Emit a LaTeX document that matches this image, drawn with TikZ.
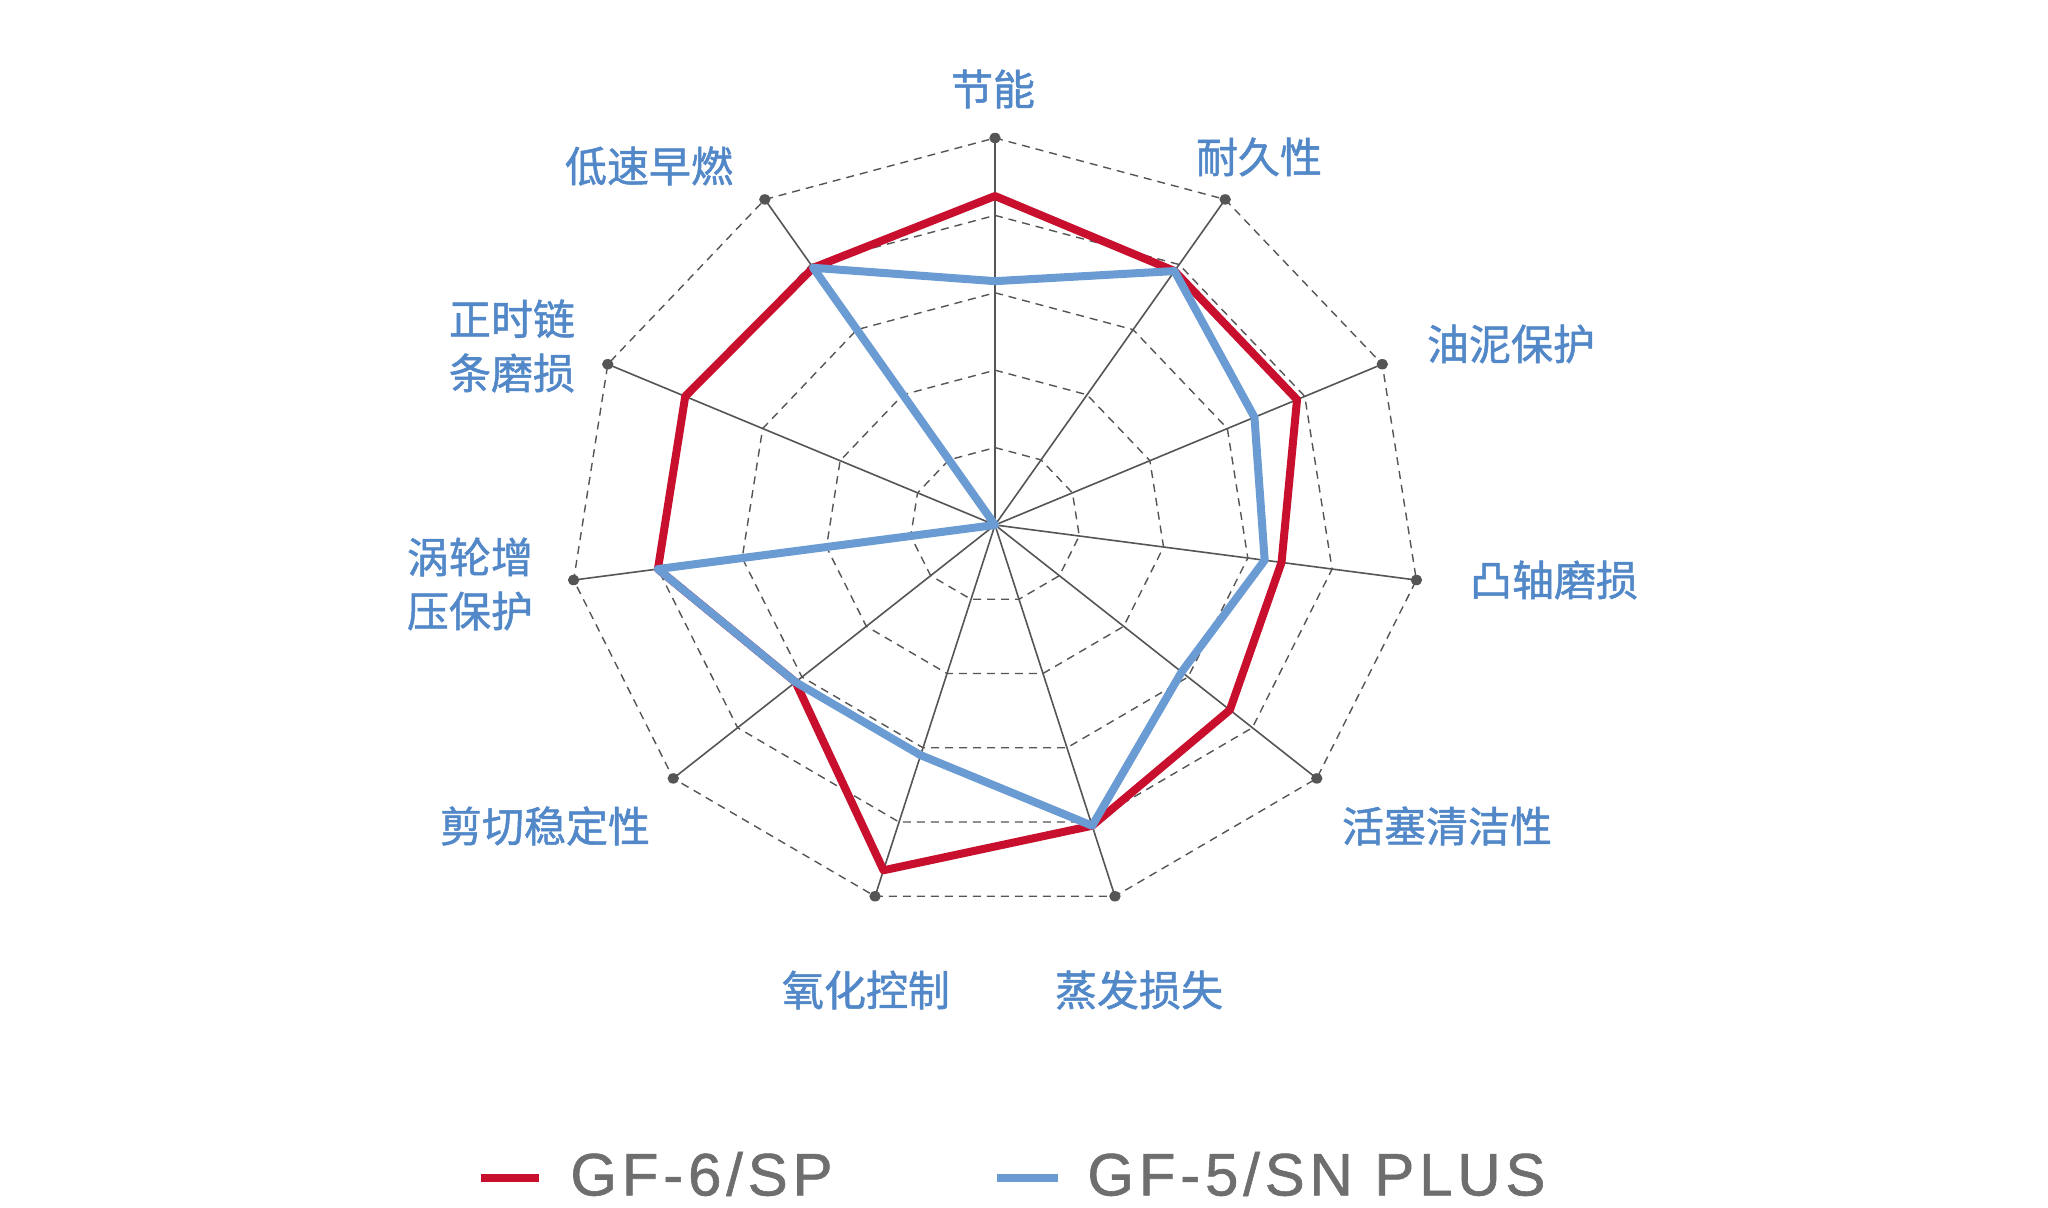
\documentclass[tikz,border=0pt]{standalone}
\usepackage{fontspec}
\newfontfamily\cjk[FakeBold=1.2]{Noto Sans CJK SC}
\newfontfamily\legf[LetterSpace=8,FakeBold=1]{Liberation Sans}
\definecolor{lblue}{RGB}{82,136,200}
\definecolor{rline}{RGB}{200,16,46}
\definecolor{bline}{RGB}{106,155,211}
\definecolor{gtext}{RGB}{110,110,110}
\definecolor{grid}{RGB}{85,85,85}
\begin{document}
\begin{tikzpicture}[x=0.5pt,y=0.5pt,
  lab/.style={font=\cjk\fontsize{21}{27}\selectfont, text=lblue, align=center, inner sep=0},
  ring/.style={grid, line width=0.7pt, dash pattern=on 4pt off 3pt},
  spoke/.style={grid, line width=0.8pt},
  serie/.style={line width=4pt, line join=round},
  legtxt/.style={font=\legf\fontsize{30}{36}\selectfont, text=gtext, anchor=west, inner sep=0}]
\useasboundingbox (0,0) rectangle (2048,1208);
\fill[white] (0,0) rectangle (2048,1208);
\begin{scope}[shift={(995,683)}, xscale=1.1]
\coordinate (o) at (0,0);
\def\R{387}
\foreach \f in {0.2,0.4,0.6,0.8,1.0}{
  \draw[ring] plot[samples at={0,...,10}, variable=\i] ({90-\i*360/11}:{\f*\R}) -- cycle;
}
\foreach \i in {0,...,10}{
  \coordinate (v\i) at ({90-\i*360/11}:\R);
  \draw[spoke] (o) -- (v\i);
  \fill[grid] (v\i) circle (2.6pt);
}
\def\redv{{0.85,0.78,0.78,0.68,0.73,0.81,0.93,0.62,0.80,0.80,0.79}}
\def\bluev{{0.63,0.78,0.67,0.64,0.58,0.81,0.62,0.62,0.80,0.0,0.79}}
\draw[serie, rline] plot[samples at={0,...,10}, variable=\i] ({90-\i*360/11}:{\R*\redv[\i]}) -- cycle;
\draw[serie, bline] plot[samples at={0,...,10}, variable=\i] ({90-\i*360/11}:{\R*\bluev[\i]}) -- cycle;
\end{scope}
\node[lab] (l0) at (993,1119) {节能};
\node[lab] (l1) at (1259,1051) {耐久性};
\node[lab] (l2) at (1511,864) {油泥保护};
\node[lab] (l3) at (1554,628) {凸轴磨损};
\node[lab] (l4) at (1447,382) {活塞清洁性};
\node[lab] (l5) at (1139,218) {蒸发损失};
\node[lab] (l6) at (866,218) {氧化控制};
\node[lab] (l7) at (545,382) {剪切稳定性};
\node[lab] (l8) at (470,624) {涡轮增\\压保护};
\node[lab] (l9) at (512,862) {正时链\\条磨损};
\node[lab] (l10) at (649,1042) {低速早燃};
\coordinate (r1) at (481,30); \coordinate (r2) at (539,30);
\draw[line width=4pt, rline] (r1) -- (r2);
\node[legtxt] (t1) at (570,34) {GF-6/SP};
\coordinate (b1) at (997,30); \coordinate (b2) at (1058,30);
\draw[line width=4pt, bline] (b1) -- (b2);
\node[legtxt] (t2) at (1087,34) {GF-5/SN PLUS};
\end{tikzpicture}
\end{document}
